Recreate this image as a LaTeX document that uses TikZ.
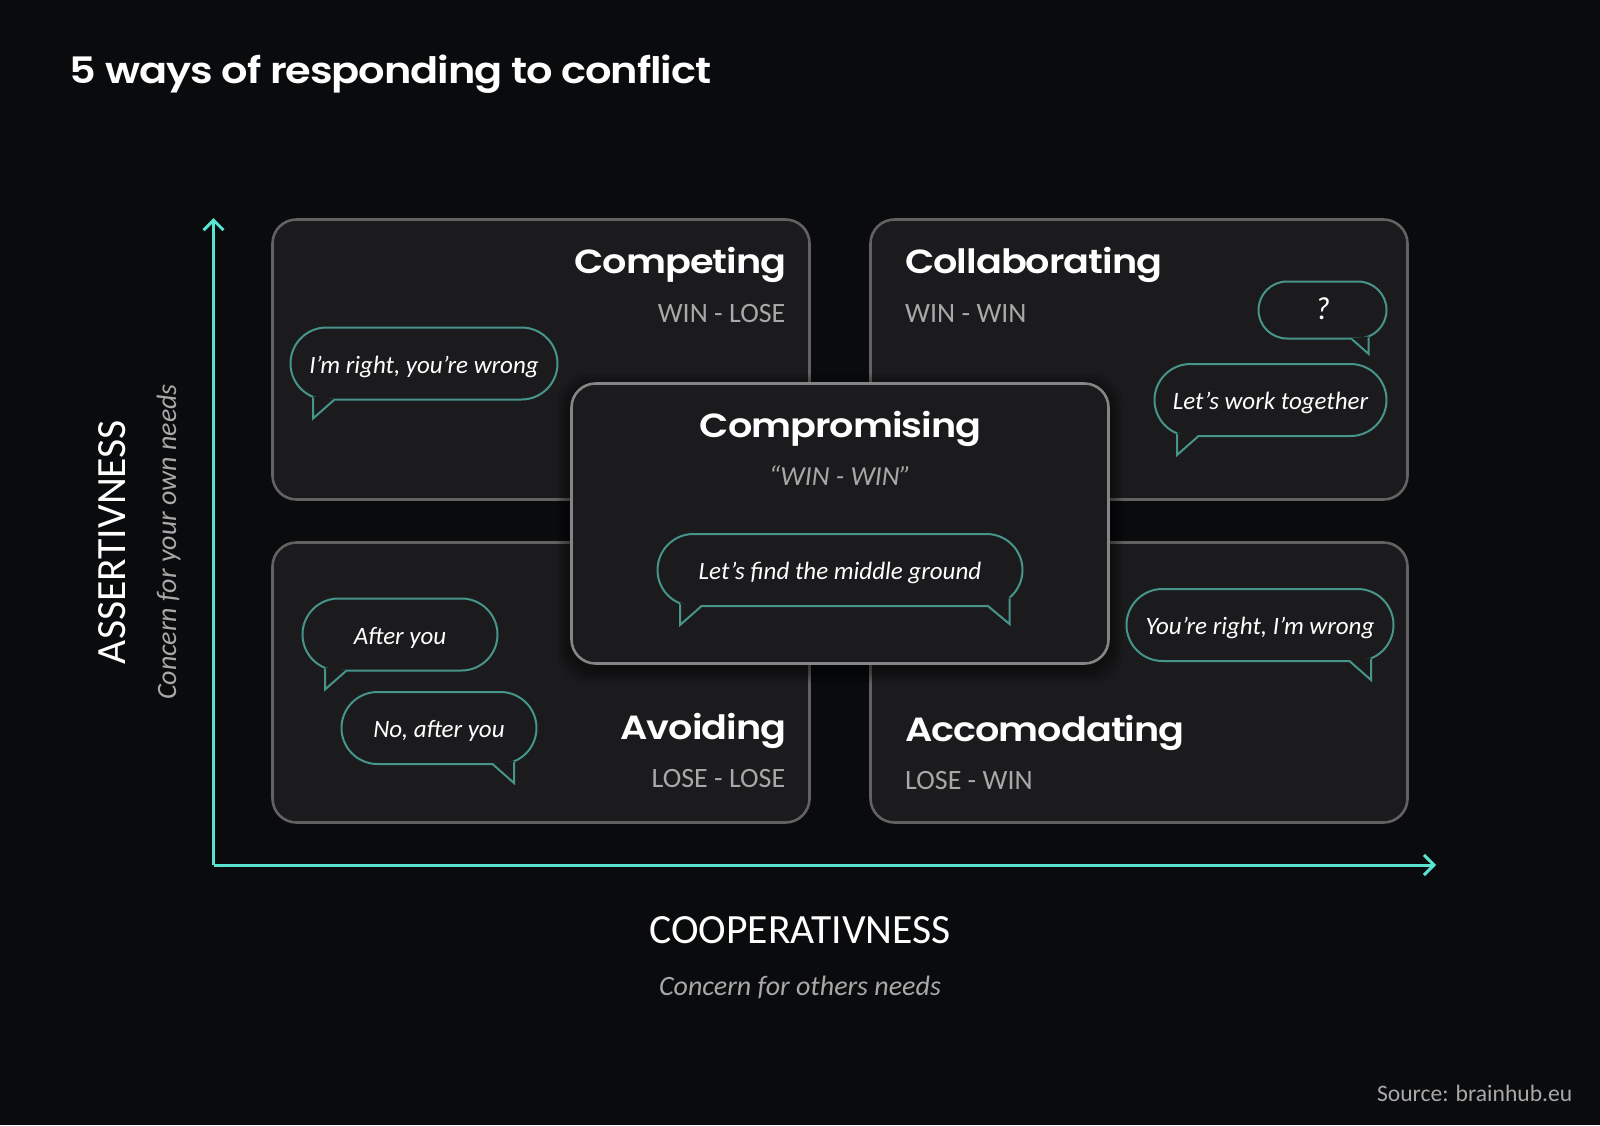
\documentclass[tikz,border=0pt]{standalone}
\usepackage{fontspec}
\setmainfont{Carlito}
\newfontfamily\headfont[FakeStretch=1.14,LetterSpace=-3]{Poppins SemiBold}
\usepackage{xcolor}
\usetikzlibrary{arrows.meta, shapes.misc}
\definecolor{pagebg}{HTML}{0A0B0D}
\definecolor{panelbg}{HTML}{1B1B1D}
\definecolor{panelline}{HTML}{626262}
\definecolor{centerline}{HTML}{858585}
\definecolor{bubbleline}{HTML}{46948A}
\definecolor{axisline}{HTML}{58E4D0}
\definecolor{softtext}{HTML}{A8A8A8}
\tikzset{
  panel/.style={draw=panelline, line width=2.6pt, fill=panelbg, rounded corners=24pt, minimum width=537pt, minimum height=280pt, inner sep=0pt},
  heading/.style={font=\headfont\fontsize{33.5}{33.5}\selectfont, text=white, inner sep=0pt},
  outcome/.style={font=\fontsize{28}{28}\selectfont, text=softtext, inner sep=0pt},
  saying/.style={rounded rectangle, draw=bubbleline, line width=2pt, fill=panelbg, minimum height=72pt, inner sep=0pt, text=white, font=\itshape\fontsize{25}{25}\selectfont, text height=22pt, text depth=3pt},
  axis/.style={draw=axisline, line width=3pt, -{Straight Barb[length=10pt,width=20pt,line width=3pt]}},
  bubbletail/.pic={
    \fill[panelbg] (23.5,33) -- (23.5,55) -- (44.5,35.4) -- cycle;
    \draw[bubbleline, line width=2pt, miter limit=8] (23.5,34.1) -- (23.5,55) -- (44.5,36.5);
  },
  edgetail/.pic={
    \fill[panelbg] (14,27) -- (14,54) -- (35,35.4) -- cycle;
    \draw[bubbleline, line width=2pt, miter limit=8] (14,28.7) -- (14,54) -- (35,36.5);
  }
}
\begin{document}
\begin{tikzpicture}[x=1pt,y=-1pt]
\fill[pagebg] (0,0) rectangle (1600,1125);
\useasboundingbox (0,0) rectangle (1600,1125);
% title and source
\node[heading, font=\headfont\fontsize{36.4}{36.4}\selectfont, anchor=base west] (title) at (69.5,83) {5 ways of responding to conflict};
\node[font=\fontsize{23.6}{23.6}\selectfont, text=softtext, inner sep=0pt, anchor=base east] (source) at (1572.5,1101) {Source: brainhub.eu};
% axes
\coordinate (origin) at (213.5,865);
\coordinate (ytip) at (213.5,218);
\coordinate (xtip) at (1436,865);
\draw[axis] (origin) -- (ytip);
\draw[axis] (origin) -- (xtip);
\node[font=\fontsize{41.6}{41.6}\selectfont, text=white, inner sep=0pt, rotate=90, anchor=base] (yname) at (125.5,542) {ASSERTIVNESS};
\node[font=\itshape\fontsize{28}{28}\selectfont, text=softtext, inner sep=0pt, rotate=90, anchor=base] (ynote) at (176,542) {Concern for your own needs};
\node[font=\fontsize{41.6}{41.6}\selectfont, text=white, inner sep=0pt, anchor=base] (xname) at (800,943) {COOPERATIVNESS};
\node[font=\itshape\fontsize{28}{28}\selectfont, text=softtext, inner sep=0pt, anchor=base] (xnote) at (800,995) {Concern for others needs};
% four corner panels
\node[panel] (competing) at (541,359.5) {};
\node[panel] (collaborating) at (1139,359.5) {};
\node[panel] (avoiding) at (541,682.5) {};
\node[panel] (accomodating) at (1139,682.5) {};
\node[heading, anchor=base east] (competingname) at (786.5,273) {Competing};
\node[outcome, anchor=base east] (competingout) at (785.5,322) {WIN - LOSE};
\node[heading, anchor=base west] (collaboratingname) at (905,273) {Collaborating};
\node[outcome, anchor=base west] (collaboratingout) at (905,322) {WIN - WIN};
\node[heading, anchor=base east] (avoidingname) at (786.5,739) {Avoiding};
\node[outcome, anchor=base east] (avoidingout) at (785.5,787) {LOSE - LOSE};
\node[heading, anchor=base west] (accomodatingname) at (905,741) {Accomodating};
\node[outcome, anchor=base west] (accomodatingout) at (905,789) {LOSE - WIN};
% speech bubbles
\node[saying, minimum width=267pt] (wrong) at (424,363.5) {I’m right, you’re wrong};
\pic at (wrong.west) {bubbletail};
\node[saying, font=\itshape\fontsize{32}{32}\selectfont, minimum width=128pt, minimum height=57pt] (query) at (1322.5,310) {?};
\pic[xscale=-1, scale=.8] at (query.east) {bubbletail};
\node[saying, minimum width=232pt] (together) at (1270.5,400) {Let’s work together};
\pic at (together.west) {bubbletail};
\node[saying, minimum width=195pt] (afteryou) at (400,634.5) {After you};
\pic at (afteryou.west) {bubbletail};
\node[saying, minimum width=195pt] (noafter) at (439,728) {No, after you};
\pic[xscale=-1] at (noafter.east) {bubbletail};
\node[saying, minimum width=267pt] (youright) at (1260,625) {You’re right, I’m wrong};
\pic[xscale=-1] at (youright.east) {bubbletail};
% centre panel with soft shadow
\foreach \grow in {14,11,8,5,2}
  \fill[black, opacity=.1, rounded corners=30pt] (571-\grow,383-\grow+5) rectangle (1109+\grow,664+\grow+5);
\node[panel, draw=centerline] (compromising) at (840,523.5) {};
\node[heading, anchor=base] (compromisingname) at (840.5,437) {Compromising};
\node[outcome, font=\itshape\fontsize{27.5}{27.5}\selectfont, anchor=base] (compromisingout) at (840,485) {“WIN - WIN”};
\node[saying, minimum width=365pt] (middle) at (840,570) {Let’s find the middle ground};
\pic at (middle.west) {bubbletail};
\pic[xscale=-1] at (middle.east) {edgetail};
\end{tikzpicture}
\end{document}
